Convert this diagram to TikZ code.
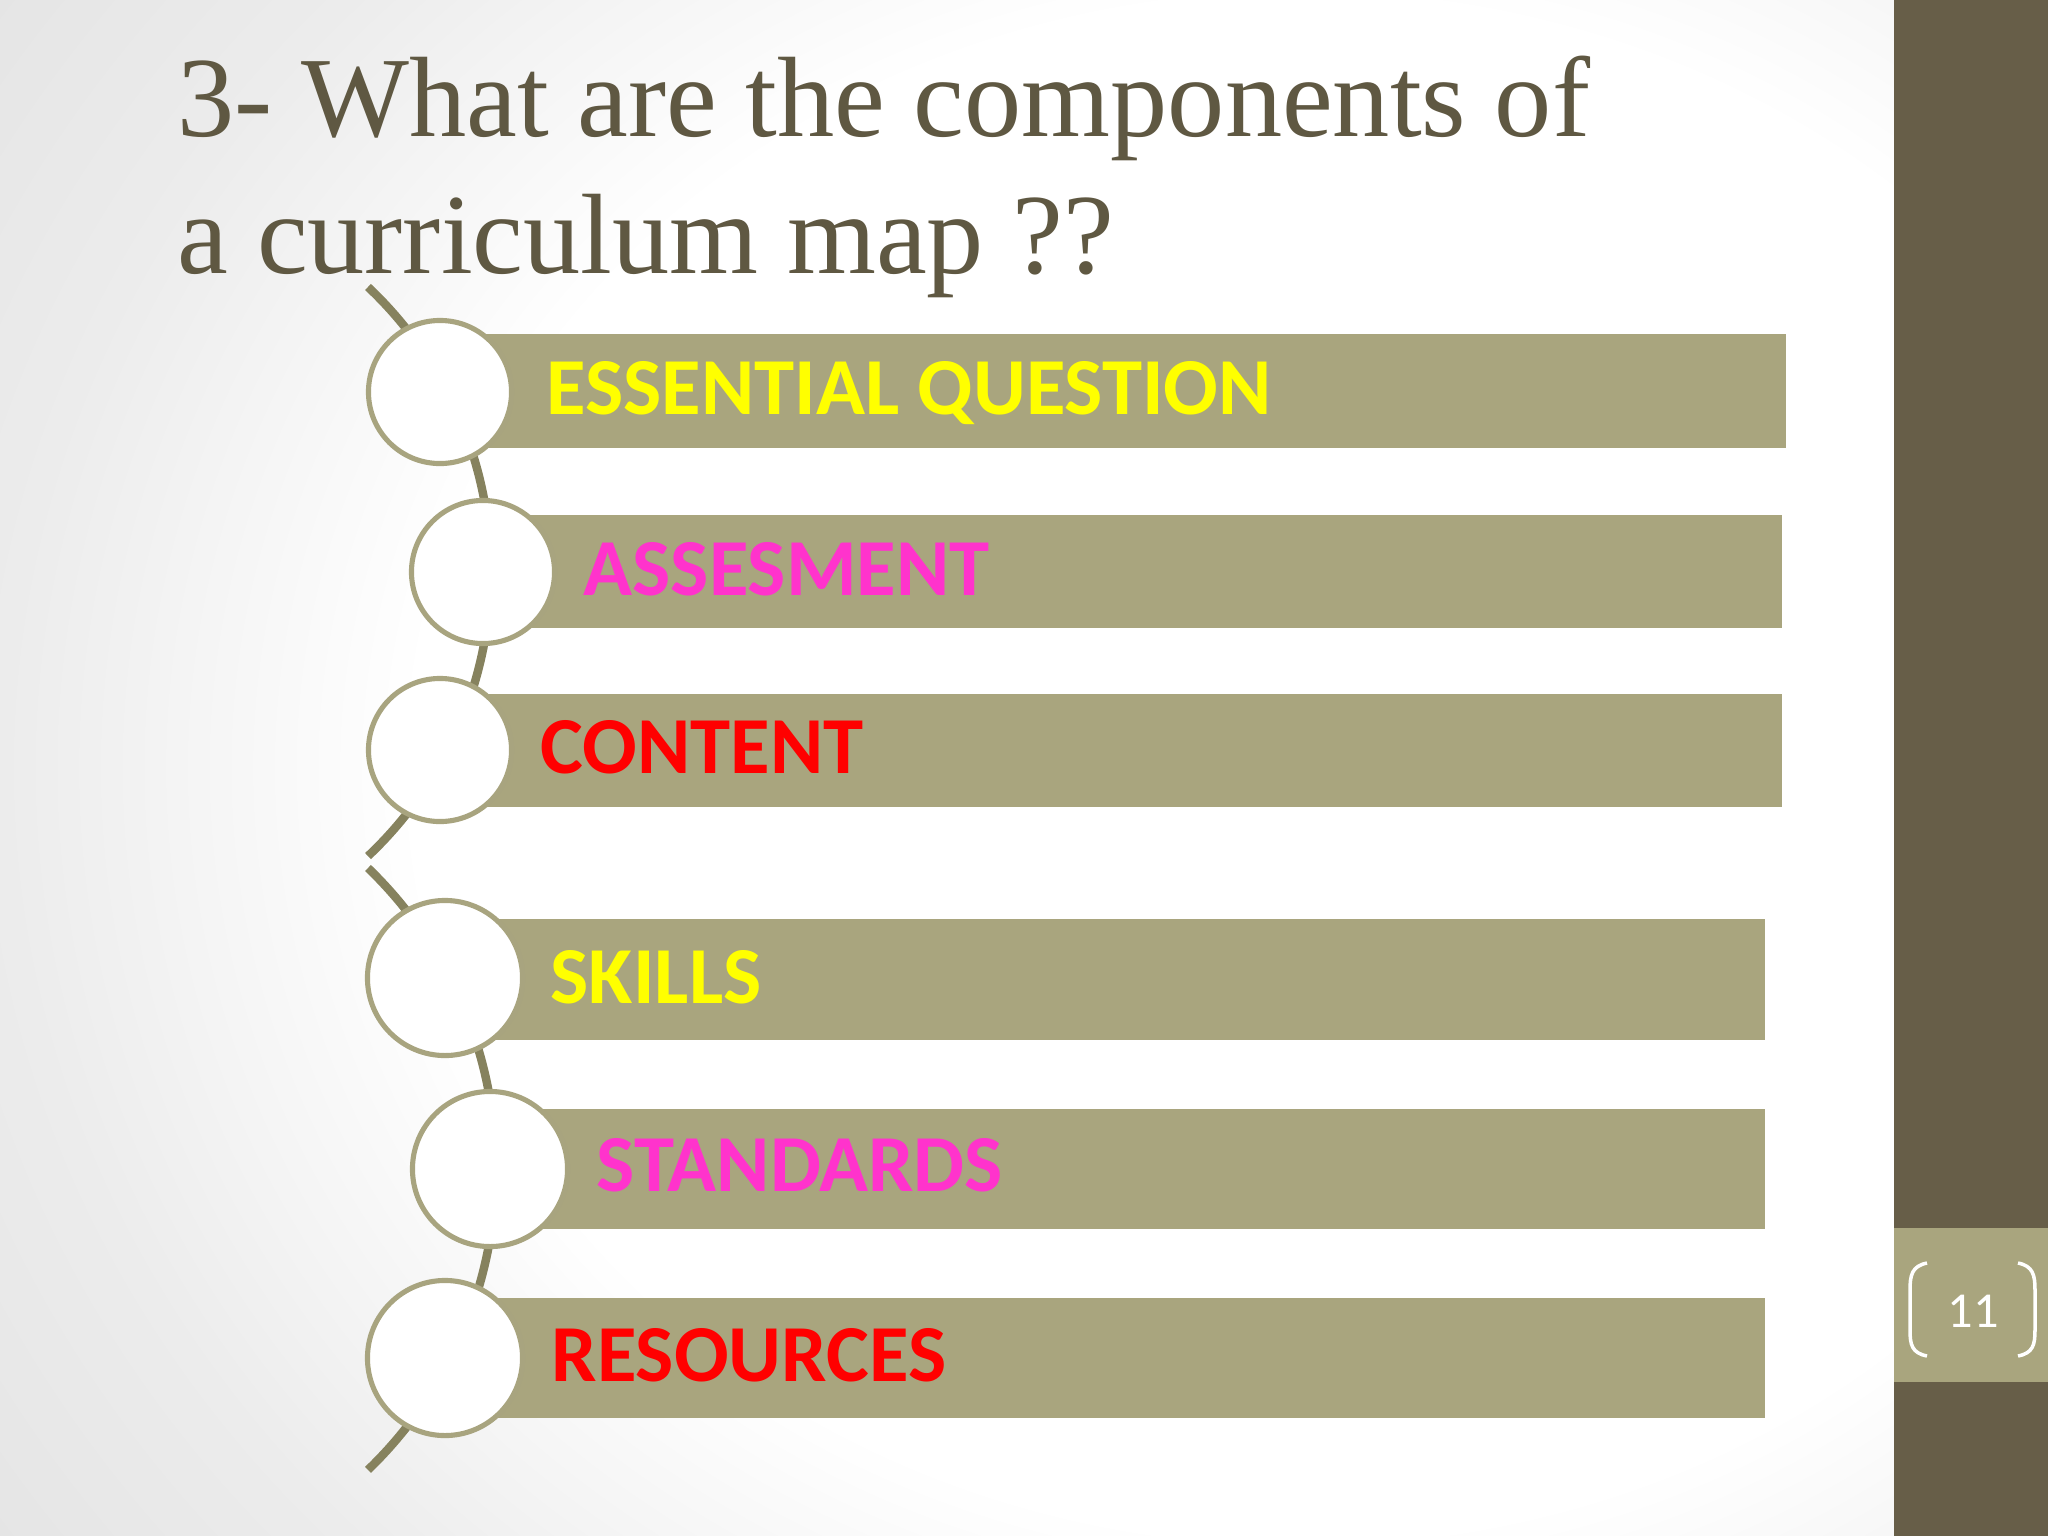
\documentclass[tikz,border=0pt]{standalone}
\usepackage{fontspec}
\setmainfont{Liberation Serif}
\newfontfamily\labelfont{Carlito}

\definecolor{sidebar}{HTML}{675E48}
\definecolor{barcol}{HTML}{A9A57E}
\definecolor{ringcol}{HTML}{A8A47F}
\definecolor{spinecol}{HTML}{86825E}
\definecolor{titlecol}{HTML}{5F5842}
\definecolor{qyellow}{HTML}{FFFF00}
\definecolor{qpink}{HTML}{FF33CC}
\definecolor{qred}{HTML}{FF0000}

\pgfdeclareradialshading{slidebg}{\pgfpoint{0bp}{0bp}}{color(0bp)=(white); color(17bp)=(white); color(25bp)=(gray!15); color(35bp)=(gray!25); color(50bp)=(gray!30)}

\begin{document}
\begin{tikzpicture}[x=0.01cm,y=0.01cm,
  ring/.style={circle,draw=ringcol,line width=1.45pt,fill=white,inner sep=0pt},
  item/.style={anchor=base west,inner sep=0pt,font=\labelfont\bfseries\fontsize{23}{23}\selectfont},
  title/.style={anchor=base west,inner sep=0pt,text=titlecol,font=\fontsize{32.5}{39}\selectfont},
  spine/.style={draw=spinecol,line width=2.4pt}]
\useasboundingbox (0,0) rectangle (2048,-1536);

% slide background
\begin{scope}
\clip (0,0) rectangle (2048,-1536);
\shade[shading=slidebg] (0,362) rectangle (2600,-1898);
\end{scope}

% right band and page number
\fill[sidebar] (1894,0) rectangle (2048,-1536);
\fill[barcol] (1894,-1228) rectangle (2048,-1382);
\draw[white,line width=1pt] (1927,-1263) .. controls (1912,-1266) and (1910,-1275) .. (1910,-1290) -- (1910,-1330) .. controls (1910,-1345) and (1912,-1353) .. (1927,-1356);
\draw[white,line width=1pt] (2018,-1263) .. controls (2033,-1266) and (2035,-1275) .. (2035,-1290) -- (2035,-1330) .. controls (2035,-1345) and (2033,-1353) .. (2018,-1356);
\node[text=white,inner sep=0pt,anchor=base,font=\labelfont\fontsize{14.3}{14.3}\selectfont] (pg) at (1973,-1327) {11};

% title
\node[title] (t1) at (177,-136) {3- What are the components of};
\node[title] (t2) at (177,-273) {a curriculum map ??};

% bars
\fill[barcol] (440,-334) rectangle (1786,-448);
\fill[barcol] (483,-515) rectangle (1782,-628);
\fill[barcol] (440,-694) rectangle (1782,-807);
\fill[barcol] (445,-919) rectangle (1765,-1040);
\fill[barcol] (490,-1109) rectangle (1765,-1229);
\fill[barcol] (445,-1298) rectangle (1765,-1418);

% the two curved spines
\coordinate (s1) at (368,-287);
\coordinate (s2) at (368,-868);
\draw[spine] (s1) arc[start angle=46.7, end angle=-46.7, radius=391];
\draw[spine] (s2) arc[start angle=46.05, end angle=-46.05, radius=418];

% circles
\node[ring,minimum size=1.43cm] (c1) at (440,-392) {};
\node[ring,minimum size=1.43cm] (c2) at (483,-572) {};
\node[ring,minimum size=1.43cm] (c3) at (440,-750) {};
\node[ring,minimum size=1.55cm] (c4) at (445,-978) {};
\node[ring,minimum size=1.55cm] (c5) at (490,-1169) {};
\node[ring,minimum size=1.55cm] (c6) at (445,-1358) {};

% labels
\node[item,text=qyellow] (l1) at (546,-414) {ESSENTIAL QUESTION};
\node[item,text=qpink] (l2) at (583,-595) {ASSESMENT};
\node[item,text=qred] (l3) at (540,-773) {CONTENT};
\node[item,text=qyellow] (l4) at (550,-1003) {SKILLS};
\node[item,text=qpink] (l5) at (596,-1191) {STANDARDS};
\node[item,text=qred] (l6) at (551,-1381) {RESOURCES};
\end{tikzpicture}
\end{document}
